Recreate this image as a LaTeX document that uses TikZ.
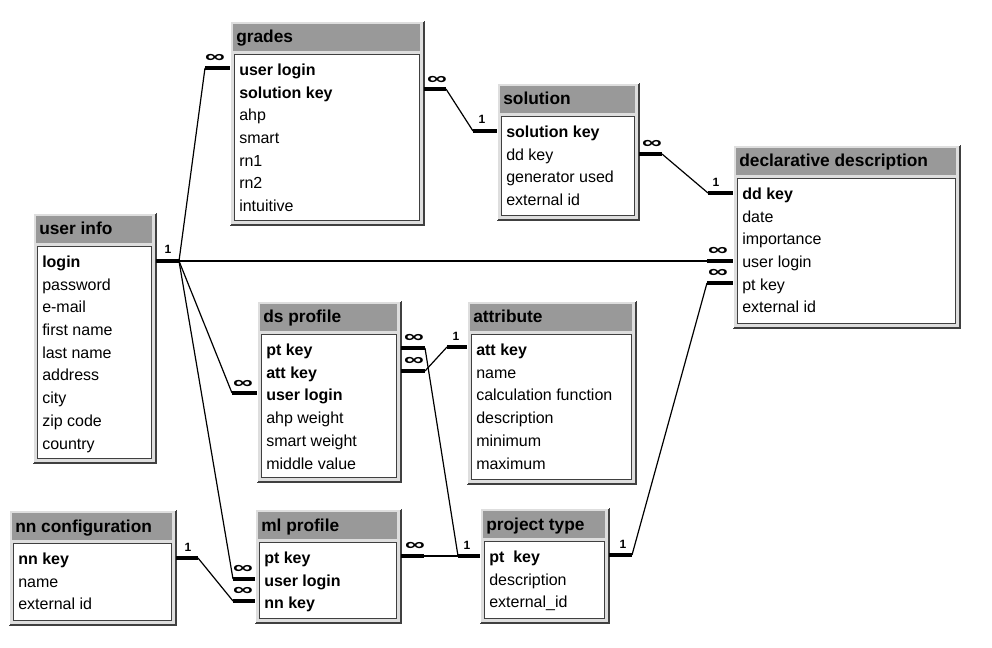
\documentclass[tikz,border=0pt]{standalone}
\usepackage{fontspec}
\setmainfont{Liberation Sans}
\usepackage{tikz}
\usetikzlibrary{calc}

% one table box: name, x0, y0, x1, y1 (pixels), title, fields
\newcommand{\erTable}[7]{%
  \fill[black!13] (#2,#3) rectangle (#4,#5);
  \draw[black!75, line width=1.1pt] (#2,#5) -- (#4,#5) -- (#4,#3);
  \draw[white, line width=0.8pt] (#2,#5) -- (#2,#3) -- (#4,#3);
  \fill[black!40] (#2+3,#3+3) rectangle (#4-4,#3+30);
  \node[tbltitle] (#1) at (#2+6,#3+22) {#6};
  \draw[black!75, fill=white, line width=0.6pt] (#2+4,#3+33) rectangle (#4-5,#5-5);
  \foreach \fld [count=\i] in {#7}
    \node[tblrow] (#1-\i) at (#2+9,#3+54.5+22.7*\i-22.7) {\fld};%
}
% wide infinity sign of the "many" ends
\newcommand{\oo}{\scalebox{1.6}[1]{∞}}

\begin{document}
\begin{tikzpicture}[x=0.75pt, y=-0.75pt,
    tbltitle/.style={anchor=base west, inner sep=0pt, font=\bfseries\fontsize{13}{15}\selectfont},
    tblrow/.style={anchor=base west, inner sep=0pt, font=\fontsize{12}{14}\selectfont},
    rel/.style={line width=0.9pt},
    stub/.style={line width=2.3pt},
    card/.style={inner sep=0pt, font=\bfseries\fontsize{9}{10}\selectfont},
    many/.style={inner sep=0pt, font=\bfseries\fontsize{13}{13}\selectfont}]

  % Canvas
  \fill[white] (0,0) rectangle (992,648);
  \useasboundingbox (0,0) rectangle (992,648);

  % Draw the tables
  \erTable{grades}{230}{21}{424}{225}{grades}{{\bfseries user login},{\bfseries solution key},ahp,smart,rn1,rn2,intuitive}
  \erTable{solution}{497}{83}{639}{220}{solution}{{\bfseries solution key},dd key,generator used,external id}
  \erTable{decl}{733}{145}{960}{328}{declarative description}{{\bfseries dd key},date,importance,user login,pt key,external id}
  \erTable{userinfo}{33}{213}{156}{463}{user info}{{\bfseries login},password,e-mail,first name,last name,address,city,zip code,country}
  \erTable{dsprofile}{257}{301}{401}{482}{ds profile}{{\bfseries pt key},{\bfseries att key},{\bfseries user login},ahp weight,smart weight,middle value}
  \erTable{attribute}{467}{301}{636}{484}{attribute}{{\bfseries att key},name,calculation function,description,minimum,maximum}
  \erTable{nnconf}{9}{510}{176}{625}{nn configuration}{{\bfseries nn key},name,external id}
  \erTable{mlprofile}{255}{509}{401}{623}{ml profile}{{\bfseries pt key},{\bfseries user login},{\bfseries nn key}}
  \erTable{projtype}{480}{508}{609}{623}{project type}{{\bfseries pt\ \ key},description,external\_id}

  % End points of the relationships
  \coordinate (uiR) at (156,261);   \coordinate (uiJ) at (179,261);
  \coordinate (grL) at (230,68);    \coordinate (grS) at (205,68);
  \coordinate (grR) at (424,89);    \coordinate (grT) at (446,89);
  \coordinate (soL) at (497,131);   \coordinate (soS) at (473,131);
  \coordinate (soR) at (639,154);   \coordinate (soT) at (662,154);
  \coordinate (ddL1) at (733,193);  \coordinate (ddS1) at (708,193);
  \coordinate (ddL2) at (733,261);  \coordinate (ddS2) at (707,261);
  \coordinate (ddL3) at (733,283);  \coordinate (ddS3) at (707,283);
  \coordinate (dsL) at (257,393);   \coordinate (dsS) at (232,393);
  \coordinate (dsR1) at (401,348);  \coordinate (dsT1) at (425,348);
  \coordinate (dsR2) at (401,371);  \coordinate (dsT2) at (425,371);
  \coordinate (atL) at (467,347);   \coordinate (atS) at (447,347);
  \coordinate (mlL1) at (255,579);  \coordinate (mlS1) at (233,579);
  \coordinate (mlL2) at (255,601);  \coordinate (mlS2) at (233,601);
  \coordinate (mlR) at (401,556);   \coordinate (mlT) at (424,556);
  \coordinate (nnR) at (176,558);   \coordinate (nnT) at (198,558);
  \coordinate (ptL) at (480,556);   \coordinate (ptS) at (458,556);
  \coordinate (ptR) at (609,555);   \coordinate (ptT) at (632,555);

  % user info 1 -- many
  \draw[stub] (uiR) -- (uiJ);
  \draw[rel] (uiJ) -- (grS);
  \draw[stub] (grS) -- (grL);
  \draw[rel] (uiJ) -- (ddS2);
  \draw[stub] (ddS2) -- (ddL2);
  \draw[rel] (uiJ) -- (dsS);
  \draw[stub] (dsS) -- (dsL);
  \draw[rel] (uiJ) -- (mlS1);
  \draw[stub] (mlS1) -- (mlL1);
  \node[card] (c1) at (168,249) {1};
  \node[many] (m1) at (215,58) {\oo};
  \node[many] (m2) at (718,251) {\oo};
  \node[many] (m3) at (243,384) {\oo};
  \node[many] (m4) at (243,569) {\oo};

  % grades -- solution
  \draw[stub] (grR) -- (grT);
  \draw[rel] (grT) -- (soS);
  \draw[stub] (soS) -- (soL);
  \node[many] (m5) at (437,80) {\oo};
  \node[card] (c2) at (482,119) {1};

  % solution -- declarative description
  \draw[stub] (soR) -- (soT);
  \draw[rel] (soT) -- (ddS1);
  \draw[stub] (ddS1) -- (ddL1);
  \node[many] (m6) at (652,144) {\oo};
  \node[card] (c3) at (716,182) {1};

  % ds profile -- project type, ds profile -- attribute
  \draw[stub] (dsR1) -- (dsT1);
  \draw[rel] (dsT1) -- (ptS);
  \draw[stub] (dsR2) -- (dsT2);
  \draw[rel] (dsT2) -- (atS);
  \draw[stub] (atS) -- (atL);
  \node[many] (m7) at (414,338) {\oo};
  \node[many] (m8) at (414,361) {\oo};
  \node[card] (c4) at (456,336) {1};

  % nn configuration -- ml profile
  \draw[stub] (nnR) -- (nnT);
  \draw[rel] (nnT) -- (mlS2);
  \draw[stub] (mlS2) -- (mlL2);
  \node[card] (c5) at (188,547) {1};
  \node[many] (m9) at (243,591) {\oo};

  % ml profile -- project type
  \draw[stub] (mlR) -- (mlT);
  \draw[rel] (mlT) -- (ptS);
  \draw[stub] (ptS) -- (ptL);
  \node[many] (m10) at (415,546) {\oo};
  \node[card] (c6) at (467,545) {1};

  % project type -- declarative description
  \draw[stub] (ptR) -- (ptT);
  \draw[rel] (ptT) -- (ddS3);
  \draw[stub] (ddS3) -- (ddL3);
  \node[card] (c7) at (623,544) {1};
  \node[many] (m11) at (718,273) {\oo};
\end{tikzpicture}
\end{document}
